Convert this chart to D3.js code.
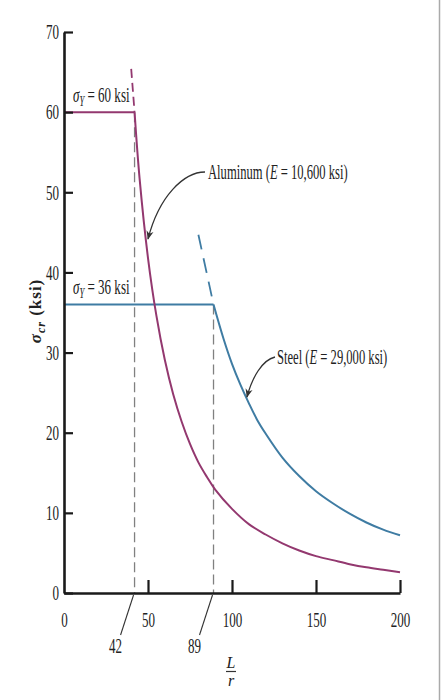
<!DOCTYPE html>
<html>
<head>
<meta charset="utf-8">
<script src="https://cdn.jsdelivr.net/npm/d3@7"></script>
<style>
  body { margin: 0; background: #fff; }
  text { font-family: "Liberation Serif", "DejaVu Serif", serif; fill: #222; }
</style>
</head>
<body>
<div id="chart"></div>
<script>
// Data
var xTicks = [0, 50, 100, 150, 200];
var yTicks = [0, 10, 20, 30, 40, 50, 60, 70];

// slenderness where the yield plateau meets the Euler curve, and the yield stress
var limitRatios = [42, 89];
var yieldStress = [60, 36];

// aluminum Euler curve (L/r, ksi)
var alumRatio = [42, 45, 50, 55, 60, 65, 70, 75, 80, 85, 90, 100, 110, 120, 130, 140, 150, 160, 170, 180, 190, 200];
var alumStress = [60, 51.7, 41.8, 34.6, 29.1, 24.8, 21.4, 18.6, 16.3, 14.5, 12.9, 10.5, 8.6, 7.3, 6.2, 5.3, 4.6, 4.1, 3.6, 3.2, 2.9, 2.6];
var alumDashRatio = [40, 42];
var alumDashStress = [65.4, 60];

// steel Euler curve
var steelRatio = [89, 95, 100, 105, 110, 115, 120, 130, 140, 150, 160, 170, 180, 190, 200];
var steelStress = [36, 31.7, 28.6, 26.0, 23.7, 21.6, 19.9, 16.9, 14.6, 12.7, 11.2, 9.9, 8.8, 7.9, 7.2];
var steelDashRatio = [80, 89];
var steelDashStress = [44.7, 36];

var svgWidth = 441;
var svgHeight = 700;

var margin = { top: 32, right: 41, bottom: 107, left: 64 };
var width = svgWidth - margin.left - margin.right;
var height = svgHeight - margin.top - margin.bottom;

var purple = "#93386f";
var blue = "#3f7ca3";
var squeeze = 0.62;

var svg = d3.select("#chart")
  .append("svg")
  .attr("width", svgWidth)
  .attr("height", svgHeight);

svg.append("rect").attr("width", svgWidth).attr("height", svgHeight).attr("fill", "#fff");

// thin frame line on the right edge of the scan
svg.append("line")
  .attr("x1", 439.5).attr("x2", 439.5)
  .attr("y1", 0).attr("y2", svgHeight)
  .attr("stroke", "#aaa").attr("stroke-width", 1.5);

svg.append("defs").append("marker")
  .attr("id", "arrow")
  .attr("viewBox", "0 0 10 10")
  .attr("refX", 9).attr("refY", 5)
  .attr("markerWidth", 9).attr("markerHeight", 9)
  .attr("markerUnits", "userSpaceOnUse")
  .attr("orient", "auto")
  .append("path")
  .attr("d", "M0,1 L10,5 L0,9 L3,5 Z")
  .attr("fill", "#333");

var chartGroup = svg.append("g")
  .attr("transform", `translate(${margin.left}, ${margin.top})`);

var x = d3.scaleLinear().domain([0, 200]).range([0, width]);
var y = d3.scaleLinear().domain([0, 70]).range([height, 0]);

// squash a text horizontally (the book font is very condensed)
function condense(sel, k) {
  sel.each(function () {
    var t = d3.select(this);
    var x0 = +t.attr("x") || 0;
    t.attr("x", x0 / k).attr("transform", `scale(${k},1)`);
  });
}

// dashed guide lines at the limit ratios
chartGroup.selectAll(".guide")
  .data(limitRatios)
  .enter()
  .append("line")
  .attr("class", "guide")
  .attr("x1", d => x(d)).attr("x2", d => x(d))
  .attr("y1", (d, i) => y(yieldStress[i])).attr("y2", y(0))
  .attr("stroke", "#808080")
  .attr("stroke-width", 1.3)
  .attr("stroke-dasharray", "10,5");

var line = d3.line()
  .x(d => x(d[0]))
  .y(d => y(d[1]))
  .curve(d3.curveCatmullRom.alpha(0.5));

var straight = d3.line().x(d => x(d[0])).y(d => y(d[1]));

function pairs(a, b) { return a.map((v, i) => [v, b[i]]); }

// yield plateaus
var colors = [purple, blue];
limitRatios.forEach(function (r, i) {
  chartGroup.append("path")
    .attr("d", straight([[0, yieldStress[i]], [r, yieldStress[i]]]))
    .attr("fill", "none")
    .attr("stroke", colors[i])
    .attr("stroke-width", 2);
});

chartGroup.append("path")
  .attr("d", line(pairs(alumRatio, alumStress)))
  .attr("fill", "none").attr("stroke", purple).attr("stroke-width", 2);

chartGroup.append("path")
  .attr("d", line(pairs(steelRatio, steelStress)))
  .attr("fill", "none").attr("stroke", blue).attr("stroke-width", 2);

chartGroup.append("path")
  .attr("d", straight(pairs(alumDashRatio, alumDashStress)))
  .attr("fill", "none").attr("stroke", purple).attr("stroke-width", 1.8)
  .attr("stroke-dasharray", "9,5");

chartGroup.append("path")
  .attr("d", straight(pairs(steelDashRatio, steelDashStress)))
  .attr("fill", "none").attr("stroke", blue).attr("stroke-width", 1.8)
  .attr("stroke-dasharray", "15,9");

// axes
var leftAxis = d3.axisLeft(y).tickValues(yTicks).tickSizeInner(-9).tickSizeOuter(0).tickPadding(5);
var bottomAxis = d3.axisBottom(x).tickValues(xTicks).tickSizeInner(-13).tickSizeOuter(0).tickPadding(19);

var yAxis = chartGroup.append("g").call(leftAxis);
var xAxis = chartGroup.append("g")
  .attr("transform", `translate(0, ${height})`)
  .call(bottomAxis);

[xAxis, yAxis].forEach(function (ax) {
  ax.select(".domain").attr("stroke", "#1a1a1a").attr("stroke-width", 2.6);
  ax.selectAll(".tick line").attr("stroke", "#1a1a1a").attr("stroke-width", 2.2);
  ax.selectAll(".tick text")
    .attr("font-family", "Liberation Serif")
    .attr("font-size", 21)
    .attr("fill", "#333");
});
xAxis.selectAll(".tick").filter(d => d === 0).select("line").remove();
condense(yAxis.selectAll(".tick text"), squeeze);
condense(xAxis.selectAll(".tick text"), squeeze);

// leader lines to 42 and 89
var leader = chartGroup.selectAll(".leader")
  .data(limitRatios)
  .enter()
  .append("g");

leader.append("line")
  .attr("x1", d => x(d) - 1).attr("y1", height + 2)
  .attr("x2", d => x(d) - 14).attr("y2", height + 42)
  .attr("stroke", "#333").attr("stroke-width", 1.1);

leader.append("text")
  .attr("x", d => x(d) - 19)
  .attr("y", height + 60)
  .attr("text-anchor", "middle")
  .attr("font-size", 21)
  .attr("fill", "#333")
  .text(d => d)
  .call(condense, squeeze);

// annotations
function note(px, py, k) {
  return svg.append("g").attr("transform", `translate(${px}, ${py}) scale(${k},1)`)
    .append("text").attr("font-size", 21);
}

function yieldNote(val, py) {
  var t = note(73, py, squeeze);
  t.append("tspan").attr("font-style", "italic").text("σ");
  t.append("tspan").attr("font-style", "italic").attr("font-size", 14).attr("dy", 4).text("Y");
  t.append("tspan").attr("dy", -4).text(" = " + val + " ksi");
}
yieldNote(yieldStress[0], 102);
yieldNote(yieldStress[1], 294);

var al = note(208, 179, 0.6);
al.append("tspan").text("Aluminum (");
al.append("tspan").attr("font-style", "italic").text("E");
al.append("tspan").text(" = 10,600 ksi)");

var st = note(277, 364, 0.6);
st.append("tspan").text("Steel (");
st.append("tspan").attr("font-style", "italic").text("E");
st.append("tspan").text(" = 29,000 ksi)");

svg.append("path")
  .attr("d", "M205,172 C184,172 159,196 148,239")
  .attr("fill", "none").attr("stroke", "#333").attr("stroke-width", 1.3)
  .attr("marker-end", "url(#arrow)");

svg.append("path")
  .attr("d", "M275,357 C262,360 252,378 247,397")
  .attr("fill", "none").attr("stroke", "#333").attr("stroke-width", 1.3)
  .attr("marker-end", "url(#arrow)");

// y axis title
var yt = svg.append("text")
  .attr("transform", "translate(41, 311) rotate(-90)")
  .attr("text-anchor", "middle")
  .attr("font-size", 17)
  .attr("font-weight", "bold")
  .attr("fill", "#333")
  .attr("letter-spacing", 1);
yt.append("tspan").attr("font-style", "italic").text("σ");
yt.append("tspan").attr("font-style", "italic").attr("font-size", 12).attr("dy", 4).text("cr");
yt.append("tspan").attr("dy", -4).text("  (ksi)");

// x axis title as fraction L / r
var xt = svg.append("g").attr("transform", `translate(${margin.left + x(100) - 1}, 0)`);
xt.append("text").attr("y", 668).attr("text-anchor", "middle")
  .attr("font-size", 16).attr("font-style", "italic").text("L");
xt.append("line").attr("x1", -5).attr("x2", 5).attr("y1", 671.5).attr("y2", 671.5)
  .attr("stroke", "#333").attr("stroke-width", 1.2);
xt.append("text").attr("y", 686).attr("text-anchor", "middle")
  .attr("font-size", 16).attr("font-style", "italic").text("r");
</script>
</body>
</html>
